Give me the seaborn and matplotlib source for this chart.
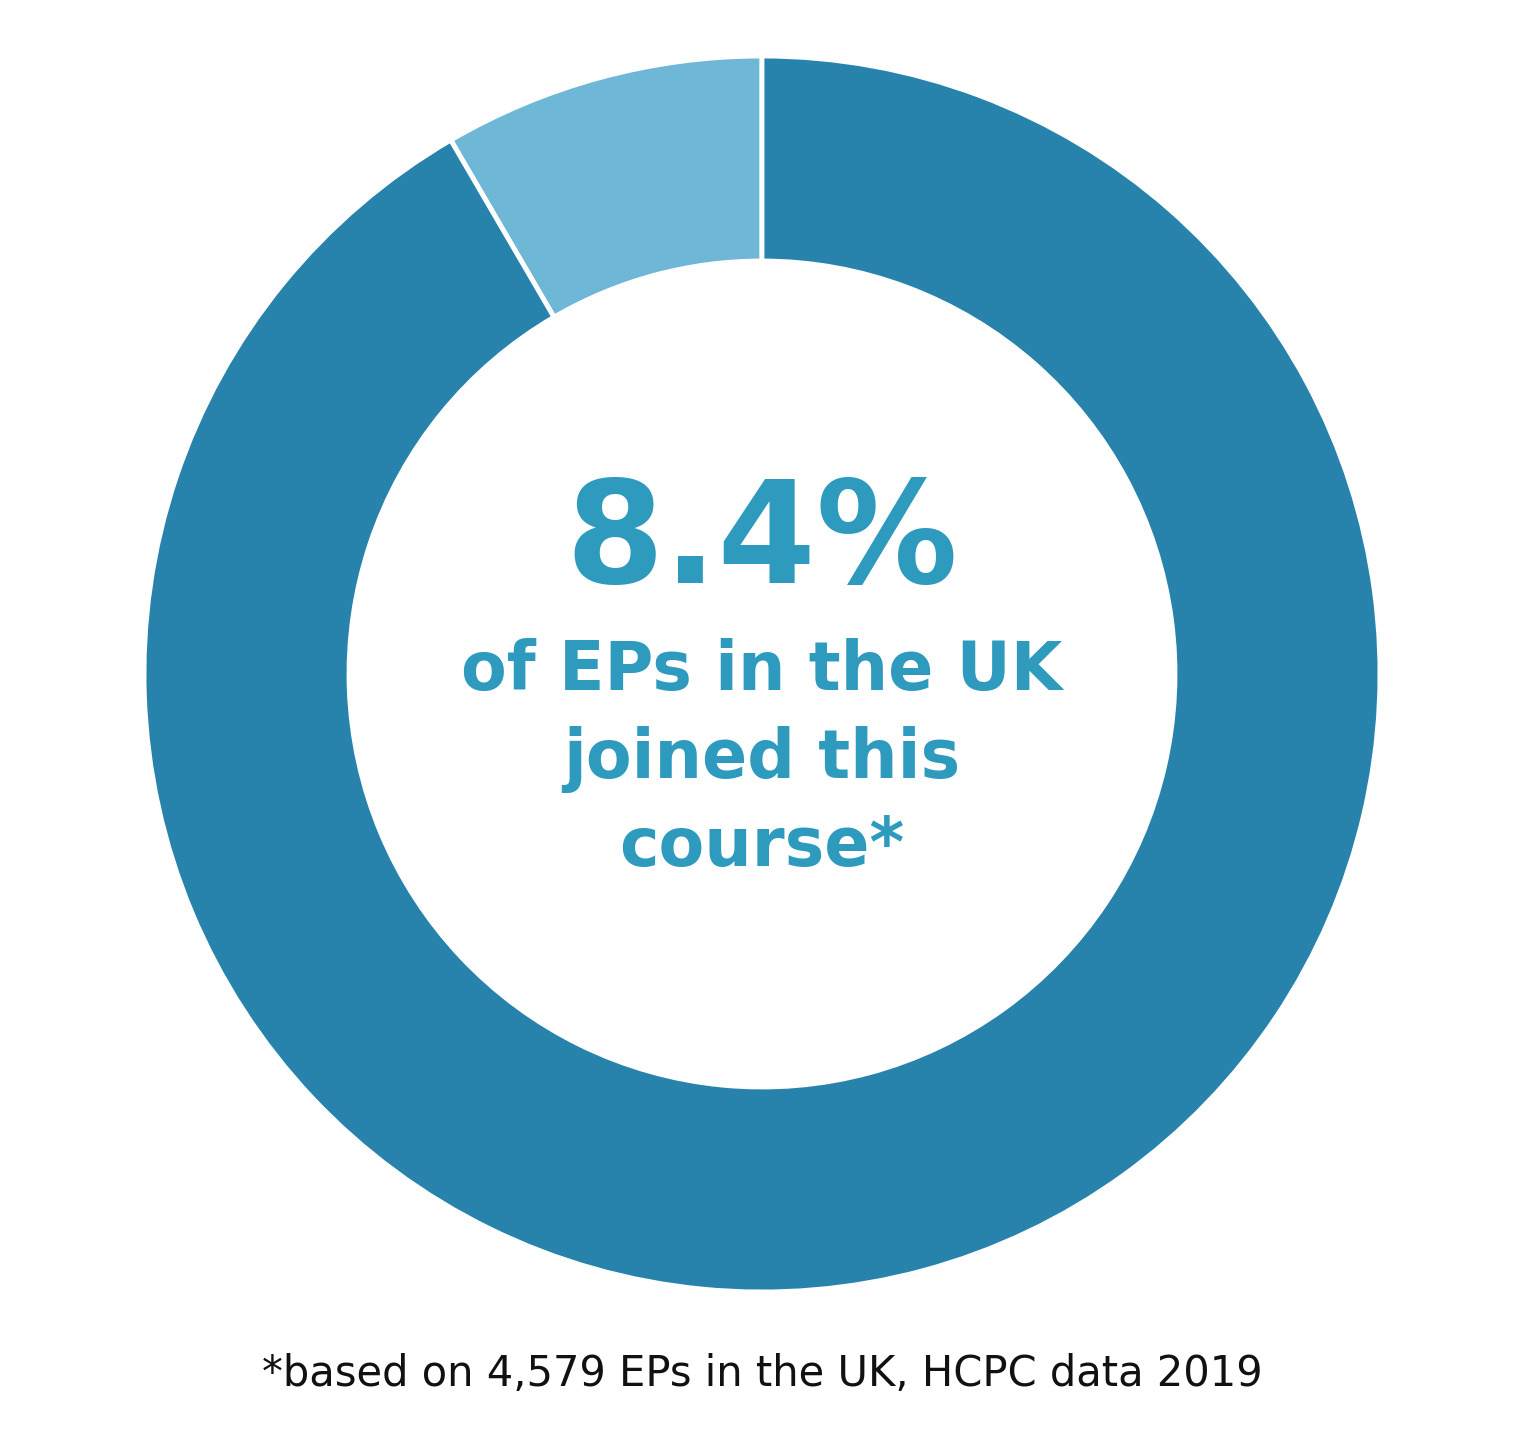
import matplotlib
matplotlib.use("Agg")
import matplotlib.pyplot as plt
import seaborn as sns

sns.set_theme(style="white")
plt.rcParams['font.family'] = ['DejaVu Sans']

labels = ["Joined this course", "Other EPs in the UK"]
shares = [8.4, 91.6]
colors = ["#6FB7D6", "#2783AB"]
headline = "8.4%"
subtitle_lines = ["of EPs in the UK", "joined this", "course*"]
footnote = "*based on 4,579 EPs in the UK, HCPC data 2019"

W, H = 1525, 1440
fig = plt.figure(figsize=(W / 100, H / 100), dpi=100)
fig.patch.set_facecolor("white")

cx, cy, R = 762, 674, 618
ax = fig.add_axes([(cx - R) / W, (H - cy - R) / H, 2 * R / W, 2 * R / H])
ax.pie(shares, colors=colors, startangle=90, counterclock=True, radius=1.0,
       wedgeprops=dict(width=1 - 413 / 618, edgecolor="white", linewidth=3.5))
ax.set_xlim(-1, 1)
ax.set_ylim(-1, 1)
ax.set_aspect("equal")
ax.axis("off")

text_color = "#2E9BBE"
fig.text(cx / W, 1 - 583 / H, headline, ha="center", va="baseline",
         fontsize=102, fontweight="bold", color=text_color)
baselines = [690, 778, 866]
for line, b in zip(subtitle_lines, baselines):
    fig.text(cx / W, 1 - b / H, line, ha="center", va="baseline",
             fontsize=48, fontweight="bold", color=text_color)

fig.text(762 / W, 1 - 1386 / H, footnote, ha="center", va="baseline",
         fontsize=30, color="#111111")

fig.savefig("out.png", dpi=100, facecolor="white")
